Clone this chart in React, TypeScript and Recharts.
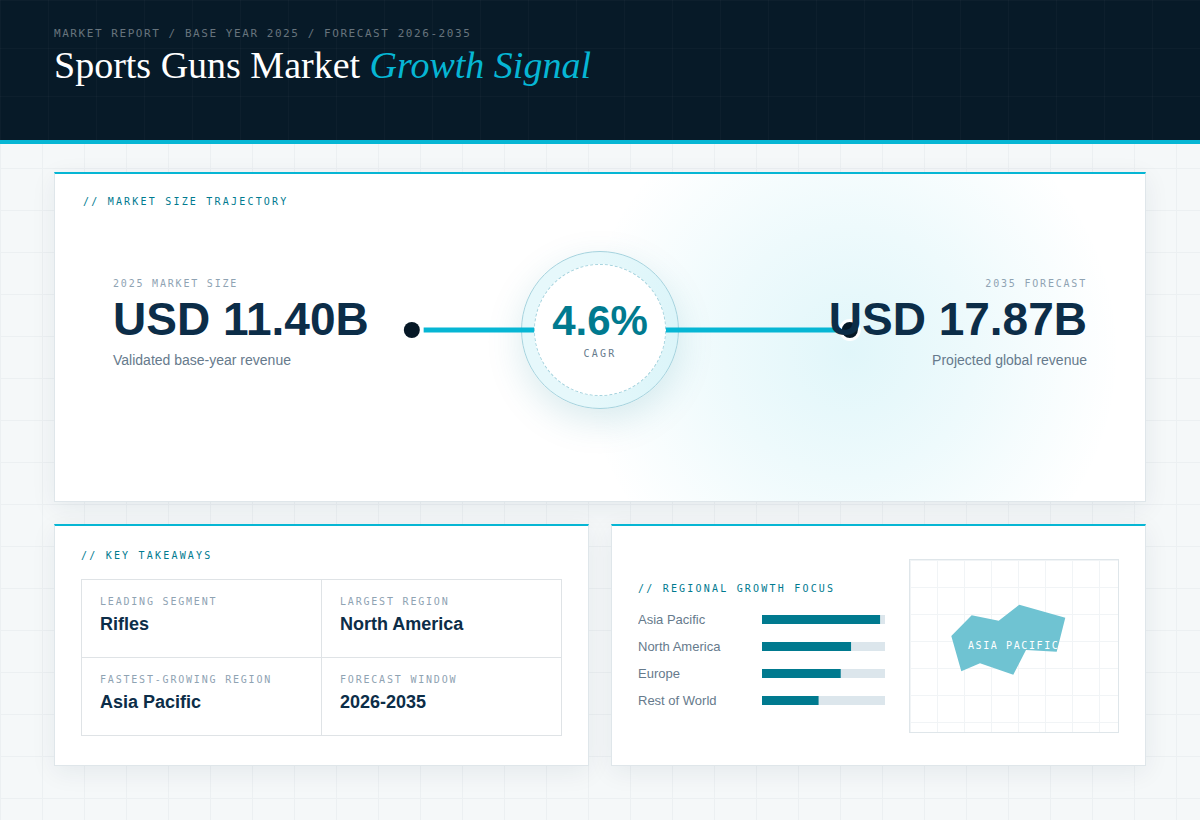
import React from 'react';
import {
  BarChart, Bar, XAxis, YAxis, ComposedChart, Line, Scatter, ScatterChart, ZAxis,
} from 'recharts';

// trajectory
const trajectoryYears = [2025, 2035];
const connectorYears = [2025.27, 2035];
const trajectoryLevel = 0;

// regional growth focus
const regions = ['Asia Pacific', 'North America', 'Europe', 'Rest of World'];
const regionScores = [96, 72.4, 64, 46];

// map outline of the highlighted region
const mapLng = [41.3, 61.7, 88.7, 109.3, 155.3, 146.7, 116, 103.3, 70, 51.3, 41.3];
const mapLat = [96, 116.7, 111.3, 127.3, 114.3, 80.3, 82, 57.3, 68.7, 60.7, 96];

// takeaways
const takeawayLabels = ['LEADING SEGMENT', 'LARGEST REGION', 'FASTEST-GROWING REGION', 'FORECAST WINDOW'];
const takeawayValues = ['Rifles', 'North America', 'Asia Pacific', '2026-2035'];

const regionData = regions.map((name, i) => ({ name, score: regionScores[i] }));
const connectorData = connectorYears.map((year) => ({ year, level: trajectoryLevel }));
const endpointData = trajectoryYears.map((year) => ({ year, level: trajectoryLevel }));
const mapData = mapLng.map((lng, i) => ({ lng, lat: mapLat[i] }));

const mono = "'DejaVu Sans Mono', monospace";
const sans = "'Liberation Sans', Arial, sans-serif";
const serif = "'Liberation Serif', serif";
const cyan = '#06b6d4';
const teal = '#007a8f';
const navy = '#0c2d48';
const ink = '#061826';
const slate = '#667a8c';
const muted = '#8fa3b3';

const abs = (left: number, top: number, extra: React.CSSProperties = {}): React.CSSProperties => ({
  position: 'absolute', left, top, ...extra,
});

const cardStyle = (left: number, top: number, width: number, height: number): React.CSSProperties => ({
  position: 'absolute', left, top, width, height, boxSizing: 'border-box',
  background: '#fff', border: '1px solid #dfe6ea', borderTop: `2px solid ${cyan}`,
  boxShadow: '0 6px 24px rgba(10,37,64,0.07)',
});

const Eyebrow = ({ left, top, children }: { left: number; top: number; children: string }) => (
  <div style={abs(left, top, {
    fontFamily: mono, fontSize: 10, letterSpacing: 2.2, color: teal, lineHeight: '12px', whiteSpace: 'nowrap',
  })}>{children}</div>
);

const RegionTick = (props: any) => (
  <text x={0} y={props.y} dy={4.5} fontSize={13} fontFamily={sans} fill={slate}>{props.payload.value}</text>
);

const Endpoint = (props: any) => {
  const last = props.payload.year === trajectoryYears[1];
  return <circle cx={props.cx} cy={props.cy} r={last ? 9.5 : 8} fill={ink}
    stroke={last ? '#fff' : 'none'} strokeWidth={last ? 3 : 0} />;
};

export default function App() {
  return (
    <div style={{
      position: 'absolute', left: 0, top: 0, width: 1200, height: 820, overflow: 'hidden', fontFamily: sans,
      backgroundColor: '#f5f8f9',
      backgroundImage: 'linear-gradient(#ecf0f2 1px, transparent 1px), linear-gradient(90deg, #ecf0f2 1px, transparent 1px)',
      backgroundSize: '42px 42px',
    }}>
      {/* header */}
      <div style={{
        position: 'absolute', left: 0, top: 0, width: 1200, height: 144, boxSizing: 'border-box',
        borderBottom: `4px solid ${cyan}`, backgroundColor: '#071a28',
        backgroundImage: 'linear-gradient(rgba(255,255,255,0.022) 1px, transparent 1px), linear-gradient(90deg, rgba(255,255,255,0.022) 1px, transparent 1px)',
        backgroundSize: '48px 48px',
      }}>
        <div style={abs(54, 27, { fontFamily: mono, fontSize: 11, letterSpacing: 1.56, color: '#67747d', lineHeight: '13px', whiteSpace: 'nowrap' })}>
          MARKET REPORT / BASE YEAR 2025 / FORECAST 2026-2035
        </div>
        <div style={abs(54, 43, { fontFamily: serif, fontSize: 38, color: '#fff', lineHeight: '44px', whiteSpace: 'nowrap' })}>
          Sports Guns Market <em style={{ color: cyan }}>Growth Signal</em>
        </div>
      </div>

      {/* trajectory card */}
      <div style={{
        ...cardStyle(54, 172, 1092, 330),
        background: 'radial-gradient(circle 270px at 795px 178px, rgba(6,182,212,0.12) 0, rgba(6,182,212,0.07) 45%, rgba(6,182,212,0) 100%), #fff',
      }} />
      <Eyebrow left={83} top={196}>// MARKET SIZE TRAJECTORY</Eyebrow>

      {/* cagr ring sits under the connector, the inner disc over it */}
      <div style={{
        position: 'absolute', left: 521, top: 251, width: 158, height: 158, boxSizing: 'border-box', borderRadius: '50%',
        background: 'rgba(6,182,212,0.10)', border: '1px solid #a6d3de', boxShadow: '0 12px 36px rgba(0,122,143,0.15)',
      }} />

      <div style={abs(400, 310)}>
        <ComposedChart width={470} height={40} data={connectorData} margin={{ top: 0, right: 0, bottom: 0, left: 0 }}>
          <XAxis type="number" dataKey="year" domain={[2024.73, 2035.46]} hide />
          <YAxis type="number" dataKey="level" domain={[-1, 1]} hide />
          <Line dataKey="level" stroke={cyan} strokeWidth={5} dot={false} isAnimationActive={false} />
          <Scatter data={endpointData} dataKey="level" shape={<Endpoint />} isAnimationActive={false} />
        </ComposedChart>
      </div>

      <div style={abs(113, 278, { fontFamily: mono, fontSize: 10, letterSpacing: 1.8, color: muted, lineHeight: '12px', whiteSpace: 'nowrap' })}>2025 MARKET SIZE</div>
      <div style={abs(113, 293, { fontSize: 46, fontWeight: 700, color: navy, lineHeight: '52px', whiteSpace: 'nowrap' })}>USD 11.40B</div>
      <div style={abs(113, 351, { fontSize: 14, color: slate, lineHeight: '18px', whiteSpace: 'nowrap' })}>Validated base-year revenue</div>

      <div style={{ position: 'absolute', right: 113, top: 278, fontFamily: mono, fontSize: 10, letterSpacing: 1.8, color: muted, lineHeight: '12px', whiteSpace: 'nowrap' }}>2035 FORECAST</div>
      <div style={{ position: 'absolute', right: 113, top: 293, fontSize: 46, fontWeight: 700, color: navy, lineHeight: '52px', whiteSpace: 'nowrap' }}>USD 17.87B</div>
      <div style={{ position: 'absolute', right: 113, top: 351, fontSize: 14, color: slate, lineHeight: '18px', whiteSpace: 'nowrap' }}>Projected global revenue</div>

      <div style={{
        position: 'absolute', left: 534, top: 264, width: 132, height: 132, boxSizing: 'border-box', borderRadius: '50%',
        background: '#fff', border: '1px dashed #a6d3de',
      }} />
      <div style={{ position: 'absolute', left: 534, top: 297, width: 132, textAlign: 'center', fontSize: 42, fontWeight: 700, color: teal, lineHeight: '48px' }}>4.6%</div>
      <div style={{ position: 'absolute', left: 534, top: 348, width: 132, textAlign: 'center', fontFamily: mono, fontSize: 10, letterSpacing: 2.2, color: slate, lineHeight: '12px' }}>CAGR</div>

      {/* takeaways */}
      <div style={cardStyle(54, 524, 535, 242)} />
      <Eyebrow left={81} top={550}>// KEY TAKEAWAYS</Eyebrow>
      <div style={{
        position: 'absolute', left: 81, top: 579, width: 481, height: 157, boxSizing: 'border-box',
        border: '1px solid #dfe3e6', display: 'grid', gridTemplateColumns: '240px 239px', gridTemplateRows: '78px 77px',
      }}>
        {takeawayLabels.map((label, i) => (
          <div key={label} style={{
            position: 'relative', boxSizing: 'border-box',
            borderRight: i % 2 === 0 ? '1px solid #dfe3e6' : 'none',
            borderBottom: i < 2 ? '1px solid #dfe3e6' : 'none',
          }}>
            <div style={abs(18, 16, { fontFamily: mono, fontSize: 10, letterSpacing: 1.8, color: muted, lineHeight: '12px', whiteSpace: 'nowrap' })}>{label}</div>
            <div style={abs(18, 32, { fontSize: 18, fontWeight: 700, color: navy, lineHeight: '24px', whiteSpace: 'nowrap' })}>{takeawayValues[i]}</div>
          </div>
        ))}
      </div>

      {/* regional focus */}
      <div style={cardStyle(611, 524, 535, 242)} />
      <Eyebrow left={638} top={583}>// REGIONAL GROWTH FOCUS</Eyebrow>
      <div style={abs(638, 606)}>
        <BarChart width={247} height={108} layout="vertical" data={regionData} margin={{ top: 0, right: 0, bottom: 0, left: 0 }}>
          <XAxis type="number" domain={[0, 100]} hide />
          <YAxis type="category" dataKey="name" width={124} axisLine={false} tickLine={false} tick={<RegionTick />} />
          <Bar dataKey="score" fill={teal} barSize={9} background={{ fill: '#dce6ec' }} isAnimationActive={false} />
        </BarChart>
      </div>

      {/* map */}
      <div style={{
        position: 'absolute', left: 909, top: 559, width: 210, height: 174, boxSizing: 'border-box',
        border: '1px solid #dfe6ea', background: '#fff',
        backgroundImage: 'linear-gradient(#f1f4f6 1px, transparent 1px), linear-gradient(90deg, #f1f4f6 1px, transparent 1px)',
        backgroundSize: '27px 27px', backgroundPosition: '27px 27px',
      }}>
        <ScatterChart width={208} height={172} margin={{ top: 0, right: 0, bottom: 0, left: 0 }}>
          <XAxis type="number" dataKey="lng" domain={[0, 208]} hide />
          <YAxis type="number" dataKey="lat" domain={[0, 172]} hide />
          <ZAxis range={[0, 0]} />
          <Scatter data={mapData} shape={() => <g />} line={{ fill: '#6fc3d2', stroke: 'none' }} isAnimationActive={false} />
        </ScatterChart>
        <div style={abs(58, 80, { fontFamily: mono, fontSize: 10, letterSpacing: 1.6, color: '#fff', lineHeight: '12px', whiteSpace: 'nowrap' })}>ASIA PACIFIC</div>
      </div>
    </div>
  );
}
